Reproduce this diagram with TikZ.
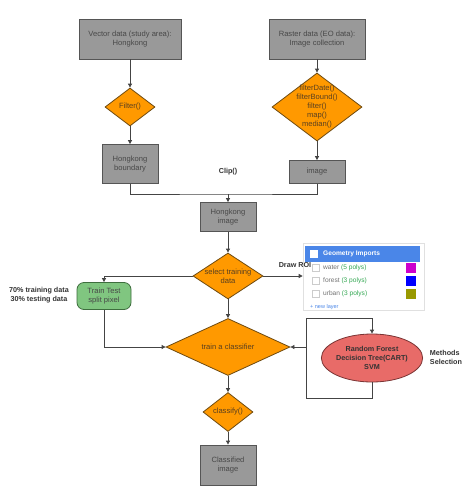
\documentclass[tikz,border=0pt]{standalone}
\usepackage{fontspec}
\setmainfont{Liberation Sans}
\usetikzlibrary{shapes.geometric,arrows.meta}
\definecolor{boxgray}{HTML}{999999}
\definecolor{edgec}{HTML}{555555}
\definecolor{txtc}{HTML}{484848}
\definecolor{orfill}{HTML}{FF9900}
\definecolor{orborder}{HTML}{6E4A10}
\definecolor{ortxt}{HTML}{5A4020}
\definecolor{grfill}{HTML}{80C680}
\definecolor{grborder}{HTML}{3E6E3E}
\definecolor{elfill}{HTML}{E86B68}
\definecolor{elborder}{HTML}{7A3434}
\definecolor{linec}{HTML}{444444}
\definecolor{labc}{HTML}{333333}
\definecolor{gblue}{HTML}{4A86E8}
\definecolor{ggreen}{HTML}{34A853}
\definecolor{swmag}{HTML}{CC00CC}
\definecolor{swblue}{HTML}{0000FF}
\definecolor{swolive}{HTML}{999900}
\begin{document}
\begin{tikzpicture}[x=1pt,y=-1pt,
  font=\fontsize{7.6}{9}\selectfont,
  gbox/.style={draw=edgec, line width=0.8pt, fill=boxgray, text=txtc, align=center, inner sep=0pt},
  dia/.style={diamond, draw=orborder, fill=orfill, line width=0.8pt, inner sep=0pt},
  diatext/.style={text=ortxt, align=center, inner sep=0pt},
  arr/.style={-{Triangle[length=4pt,width=4pt]}, draw=linec, line width=0.8pt},
  ln/.style={draw=linec, line width=0.8pt},
  lbl/.style={font=\bfseries\fontsize{7.2}{9}\selectfont, text=labc, align=center, inner sep=0pt},
  geotxt/.style={font=\fontsize{6.6}{7}\selectfont, anchor=west, inner sep=0pt},
  chk/.style={draw=black!20, fill=white, line width=0.5pt, minimum size=7pt, inner sep=0pt},
  sw/.style={minimum width=10pt, minimum height=10pt, inner sep=0pt}
]
\useasboundingbox[fill=white] (0,0) rectangle (474,493);

% top boxes
\node[gbox, minimum width=102pt, minimum height=40pt] (vec) at (130,39) {Vector data (study area):\\Hongkong};
\node[gbox, minimum width=96pt, minimum height=40pt] (ras) at (317,39) {Raster data (EO data):\\Image collection};

\node[dia, minimum width=50pt, minimum height=38pt, label={[diatext]center:Filter()}] (filt) at (130,107) {};
\node[dia, minimum width=90pt, minimum height=68pt, label={[diatext]center:filterDate()\\filterBound()\\filter()\\map()\\median()}] (rdia) at (317,107) {};

\node[gbox, minimum width=56pt, minimum height=39pt] (hkb) at (130,164) {Hongkong\\boundary};
\node[gbox, minimum width=56pt, minimum height=23pt] (img) at (317,172) {image};

\node[lbl] (clip) at (228,172) {Clip()};
\coordinate (j) at (228,194);

\node[gbox, minimum width=56pt, minimum height=29pt] (hki) at (228,217) {Hongkong\\image};

\node[dia, minimum width=70pt, minimum height=46pt, label={[diatext]center:select training\\data}] (sel) at (228,276) {};

\node[draw=grborder, fill=grfill, line width=0.8pt, rounded corners=7pt, minimum width=54pt, minimum height=27pt, text=txtc, align=center, inner sep=0pt] (tt) at (104,296) {Train Test\\split pixel};
\node[lbl] (split) at (39,295) {70\% training data\\30\% testing data};

\node[dia, minimum width=124pt, minimum height=57pt, label={[diatext]center:train a classifier}] (trn) at (228,347) {};

\node[ellipse, draw=elborder, fill=elfill, line width=0.8pt, minimum width=100pt, minimum height=48pt, inner sep=0pt, align=center, font=\bfseries\fontsize{7.2}{9}\selectfont, text=labc] (ell) at (372,358) {Random Forest\\Decision Tree(CART)\\SVM};
\node[lbl, align=left] (meth) at (446,357) {Methods\\Selection};

\node[dia, minimum width=50pt, minimum height=39pt, label={[diatext]center:classify()}] (cls) at (228,412) {};
\node[gbox, minimum width=56pt, minimum height=40pt] (cimg) at (228,465) {Classified\\image};

% Geometry imports panel
\node[draw=black!12, fill=white, line width=0.6pt, minimum width=121pt, minimum height=67pt, inner sep=0pt] (geo) at (363.5,276.5) {};
\node[fill=gblue, minimum width=115pt, minimum height=16pt, inner sep=0pt] (ghead) at (362.5,253.5) {};
\node[fill=white, minimum size=8pt, inner sep=0pt] (gchk) at (314,253.5) {};
\node[geotxt, text=white, font=\bfseries\fontsize{6.6}{7}\selectfont] (gtitle) at (323,253.5) {Geometry Imports};
\node[chk] (c1) at (316,268) {};
\node[geotxt] (t1) at (323,268) {\textcolor{black!55}{water} \textcolor{ggreen}{(5 polys)}};
\node[sw, fill=swmag] (s1) at (411,268) {};
\node[chk] (c2) at (316,281) {};
\node[geotxt] (t2) at (323,281) {\textcolor{black!55}{forest} \textcolor{ggreen}{(3 polys)}};
\node[sw, fill=swblue] (s2) at (411,281) {};
\node[chk] (c3) at (316,294) {};
\node[geotxt] (t3) at (323,294) {\textcolor{black!55}{urban} \textcolor{ggreen}{(3 polys)}};
\node[sw, fill=swolive] (s3) at (411,294) {};
\node[geotxt, text=gblue, font=\fontsize{5.5}{6}\selectfont] (nl) at (310,307) {+ new layer};
\node[lbl] (roi) at (295,265) {Draw ROI};

% connectors
\draw[arr] (vec) -- (filt);
\draw[arr] (filt) -- (hkb);
\draw[arr] (ras) -- (rdia);
\draw[arr] (rdia) -- (img);
\draw[ln] (hkb.south) |- (j) -| (img.south);
\draw[arr] (j) -- (hki.north);
\draw[arr] (hki) -- (sel);
\draw[arr] (sel.west) -| (tt.north);
\draw[arr] (sel.east) -- (geo.west |- sel.east);
\draw[arr] (sel) -- (trn);
\draw[arr] (tt.south) |- (trn.west);
\coordinate (lb) at (306,398);
\coordinate (lt) at (306,318);
\coordinate (lm) at (306,347);
\draw[arr] (ell.south) |- (lb) -- (lt) -| (ell.north);
\draw[arr] (lm) -- (trn.east);
\draw[arr] (trn) -- (cls);
\draw[arr] (cls) -- (cimg);
\end{tikzpicture}
\end{document}
